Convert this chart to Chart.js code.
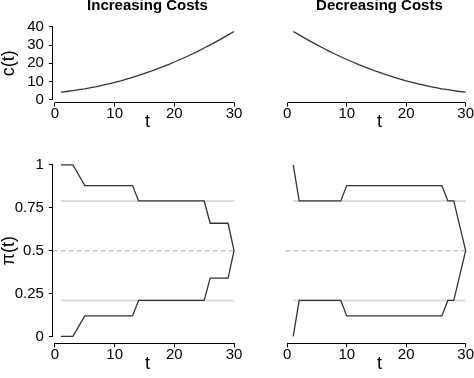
<!DOCTYPE html>
<html>
<head>
<meta charset="utf-8">
<script src="https://cdn.jsdelivr.net/npm/chart.js@4"></script>
<style>
  html, body { margin: 0; padding: 0; background: #fff; }
  #wrap { position: relative; width: 474px; height: 378px; }
  #wrap canvas { position: absolute; left: 0; top: 0; }
</style>
</head>
<body>
<div id="wrap">
  <canvas id="costInc" width="474" height="378"></canvas>
  <canvas id="costDec" width="474" height="378"></canvas>
  <canvas id="piInc" width="474" height="378"></canvas>
  <canvas id="piDec" width="474" height="378"></canvas>
</div>
<script>
const T = [1, 2, 3, 4, 5, 6, 7, 8, 9, 10, 11, 12, 13, 14, 15, 16, 17, 18, 19, 20, 21, 22, 23, 24, 25, 26, 27, 28, 29, 30];

const COST_INC = [4.2, 4.5, 5.0, 5.5, 6.0, 6.6, 7.2, 8.0, 8.7, 9.5, 10.3, 11.3, 12.3, 13.3, 14.4,
  15.5, 16.8, 18.0, 19.3, 20.7, 22.1, 23.6, 25.1, 26.7, 28.4, 30.1, 31.9, 33.7, 35.6, 37.5];
const COST_DEC = [37.5, 35.6, 33.7, 31.9, 30.1, 28.4, 26.7, 25.1, 23.6, 22.1, 20.7, 19.3, 18.0, 16.8, 15.5,
  14.4, 13.3, 12.3, 11.3, 10.3, 9.5, 8.7, 8.0, 7.2, 6.6, 6.0, 5.5, 5.0, 4.5, 4.2];

const PI_INC_UP = [1, 1, 1, 0.94, 0.88, 0.88, 0.88, 0.88, 0.88, 0.88, 0.88, 0.88, 0.88, 0.79, 0.79,
  0.79, 0.79, 0.79, 0.79, 0.79, 0.79, 0.79, 0.79, 0.79, 0.79, 0.66, 0.66, 0.66, 0.66, 0.5];
const PI_INC_LOW = [0, 0, 0, 0.06, 0.12, 0.12, 0.12, 0.12, 0.12, 0.12, 0.12, 0.12, 0.12, 0.21, 0.21,
  0.21, 0.21, 0.21, 0.21, 0.21, 0.21, 0.21, 0.21, 0.21, 0.21, 0.34, 0.34, 0.34, 0.34, 0.5];
const PI_DEC_UP = [1, 0.79, 0.79, 0.79, 0.79, 0.79, 0.79, 0.79, 0.79, 0.88, 0.88, 0.88, 0.88, 0.88, 0.88,
  0.88, 0.88, 0.88, 0.88, 0.88, 0.88, 0.88, 0.88, 0.88, 0.88, 0.88, 0.79, 0.79, 0.645, 0.5];
const PI_DEC_LOW = [0, 0.21, 0.21, 0.21, 0.21, 0.21, 0.21, 0.21, 0.21, 0.12, 0.12, 0.12, 0.12, 0.12, 0.12,
  0.12, 0.12, 0.12, 0.12, 0.12, 0.12, 0.12, 0.12, 0.12, 0.12, 0.12, 0.21, 0.21, 0.355, 0.5];

// gray reference levels and the dashed midline
const REF_LEVELS = [0.79, 0.21];
const REF_SPAN = [1, 30];
const MID_LEVEL = 0.5;
const MID_SPAN = [-0.35, 30];

const T_TICKS = [0, 10, 20, 30];
const COST_TICKS = [0, 10, 20, 30, 40];
const PI_TICKS = [0, 0.25, 0.5, 0.75, 1];
const PI_TICK_LABELS = ['0', '0.25', '0.5', '0.75', '1'];

const FONT = "'Liberation Sans', Arial, Helvetica, sans-serif";
Chart.defaults.font.family = FONT;
Chart.defaults.color = '#000';

const LINE = '#333333';

function pts(xs, ys) {
  return xs.map((x, i) => ({ x, y: ys[i] }));
}

// R-style axis line: only from first to last tick
const axisLines = {
  id: 'axisLines',
  afterDraw(chart) {
    const ctx = chart.ctx;
    const a = chart.chartArea;
    const al = (p) => Math.round(p - 0.5) + 0.5;
    ctx.save();
    ctx.strokeStyle = '#000';
    ctx.lineWidth = 1;
    ['x', 'y'].forEach((id) => {
      const s = chart.scales[id];
      if (!s.options.display || !s.ticks.length) return;
      const p0 = al(s.getPixelForValue(s.ticks[0].value));
      const p1 = al(s.getPixelForValue(s.ticks[s.ticks.length - 1].value));
      ctx.beginPath();
      if (id === 'x') {
        const y = al(a.bottom);
        ctx.moveTo(p0, y);
        ctx.lineTo(p1, y);
      } else {
        const x = al(a.left);
        ctx.moveTo(x, p0);
        ctx.lineTo(x, p1);
      }
      ctx.stroke();
    });
    ctx.restore();
  },
};

function makeScale(o) {
  return {
    type: 'linear',
    display: o.display !== false,
    min: o.min,
    max: o.max,
    afterFit: (s) => { if (o.size != null) { if (o.axis === 'x') s.height = o.size; else s.width = o.size; } },
    afterBuildTicks: (s) => { s.ticks = o.ticks.map((v) => ({ value: v })); },
    border: { display: false },
    grid: { drawOnChartArea: false, drawTicks: true, tickLength: 4, color: '#000', lineWidth: 1 },
    ticks: {
      font: { size: 15, lineHeight: 1 },
      padding: o.axis === 'x' ? 0 : 5,
      maxRotation: 0,
      autoSkip: false,
      callback: (v) => (o.labels ? o.labels[o.ticks.indexOf(v)] : String(v)),
    },
    title: o.title ? {
      display: true,
      text: o.title,
      font: { size: 18, lineHeight: 1 },
      padding: o.axis === 'x' ? { top: 0, bottom: o.titlePad } : { top: o.titlePad, bottom: 0 },
    } : { display: false },
  };
}

function panel(id, cfg) {
  new Chart(document.getElementById(id), {
    type: 'line',
    data: { datasets: cfg.datasets },
    options: {
      responsive: false,
      animation: false,
      devicePixelRatio: 1,
      events: [],
      layout: { autoPadding: false, padding: cfg.padding },
      plugins: {
        legend: { display: false },
        tooltip: { enabled: false },
        title: cfg.title ? {
          display: true,
          text: cfg.title,
          fullSize: false,
          font: { size: 15, weight: 'bold', lineHeight: 0.8 },
          padding: { top: 0, bottom: 12 },
        } : { display: false },
      },
      scales: { x: cfg.x, y: cfg.y },
    },
    plugins: [axisLines],
  });
}

function curve(xs, ys) {
  return { data: pts(xs, ys), borderColor: LINE, borderWidth: 1.3, pointRadius: 0, tension: 0, fill: false };
}

function piDatasets(up, low) {
  return [
    curve(T, up),
    curve(T, low),
    { data: pts(MID_SPAN, [MID_LEVEL, MID_LEVEL]), borderColor: '#c6c6c6', borderWidth: 1.6, borderDash: [5, 3], pointRadius: 0 },
    ...REF_LEVELS.map((lv) => ({ data: pts(REF_SPAN, [lv, lv]), borderColor: '#dcdcdc', borderWidth: 2, pointRadius: 0 })),
  ];
}

const X_MIN = -0.35;
const X_MAX = 31.35;

panel('costInc', {
  title: 'Increasing Costs',
  padding: { left: 0, top: 0, right: 231.9, bottom: 238 },
  datasets: [curve(T, COST_INC)],
  x: makeScale({ axis: 'x', min: X_MIN, max: X_MAX, ticks: T_TICKS, size: 37.4, title: 't', titlePad: 9 }),
  y: makeScale({ axis: 'y', min: -1.6, max: 41.6, ticks: COST_TICKS, size: 52.9, title: 'c(t)', titlePad: 0.5 }),
});

panel('costDec', {
  title: 'Decreasing Costs',
  padding: { left: 285.2, top: 0, right: 0, bottom: 238 },
  datasets: [curve(T, COST_DEC)],
  x: makeScale({ axis: 'x', min: X_MIN, max: X_MAX, ticks: T_TICKS, size: 37.4, title: 't', titlePad: 9 }),
  y: makeScale({ axis: 'y', display: false, min: -1.6, max: 41.6, ticks: COST_TICKS }),
});

panel('piInc', {
  padding: { left: 0, top: 158.1, right: 231.9, bottom: 0 },
  datasets: piDatasets(PI_INC_UP, PI_INC_LOW),
  x: makeScale({ axis: 'x', min: X_MIN, max: X_MAX, ticks: T_TICKS, size: 34.7, title: 't', titlePad: 5 }),
  y: makeScale({ axis: 'y', min: -0.04, max: 1.04, ticks: PI_TICKS, labels: PI_TICK_LABELS, size: 52.9, title: 'π(t)', titlePad: 0.5 }),
});

panel('piDec', {
  padding: { left: 285.2, top: 158.1, right: 0, bottom: 0 },
  datasets: piDatasets(PI_DEC_UP, PI_DEC_LOW),
  x: makeScale({ axis: 'x', min: X_MIN, max: X_MAX, ticks: T_TICKS, size: 34.7, title: 't', titlePad: 5 }),
  y: makeScale({ axis: 'y', display: false, min: -0.04, max: 1.04, ticks: PI_TICKS }),
});
</script>
</body>
</html>
